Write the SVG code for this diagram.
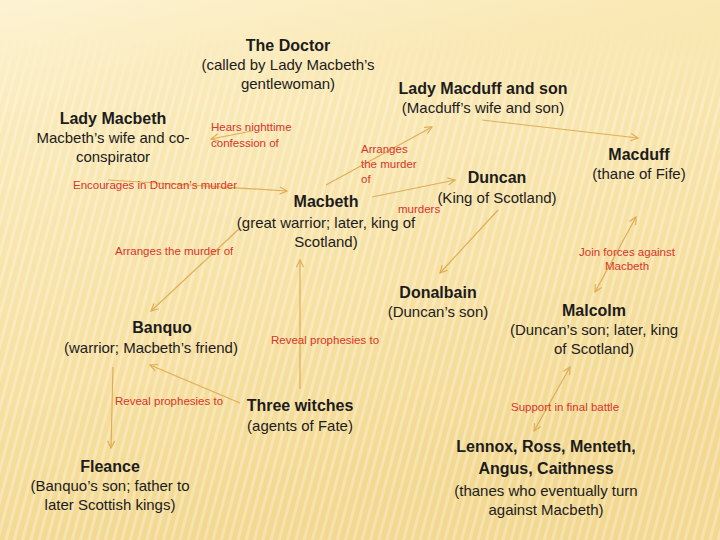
<svg xmlns="http://www.w3.org/2000/svg" width="720" height="540" viewBox="0 0 720 540">
<defs>
<linearGradient id="bg" x1="0" y1="0" x2="0.3" y2="1">
<stop offset="0" stop-color="#FDF3D3"/>
<stop offset="0.25" stop-color="#FAE9B6"/>
<stop offset="0.7" stop-color="#F6DF9F"/>
<stop offset="1" stop-color="#F2D890"/>
</linearGradient>
<pattern id="stripes" width="8" height="8" patternUnits="userSpaceOnUse" patternTransform="rotate(15)">
<rect x="0" y="0" width="3" height="8" fill="#FFFFFF"/>
</pattern>
<linearGradient id="fade" x1="0" y1="0" x2="0" y2="1">
<stop offset="0" stop-color="#000"/>
<stop offset="0.06" stop-color="#000"/>
<stop offset="0.2" stop-color="#fff"/>
<stop offset="1" stop-color="#fff"/>
</linearGradient>
<mask id="m">
<rect width="720" height="540" fill="url(#fade)"/>
</mask>
<marker id="ah" viewBox="0 0 10 10" refX="9" refY="5" markerWidth="9" markerHeight="9" orient="auto-start-reverse" markerUnits="userSpaceOnUse">
<path d="M1,1 L9,5 L1,9" fill="none" stroke="#DFAE55" stroke-width="1.3"/>
</marker>
<style>
.t{font-family:"Liberation Sans",Arial,sans-serif;font-size:16px;font-weight:bold;fill:#1c1c1c;text-anchor:middle}
.d{font-family:"Liberation Sans",Arial,sans-serif;font-size:15px;fill:#1c1c1c;text-anchor:middle}
.r{font-family:"Liberation Sans",Arial,sans-serif;font-size:11.5px;fill:#D8352A}
.c{fill:none;stroke:#DFAE55;stroke-width:1.2}
</style>
</defs>
<rect width="720" height="540" fill="url(#bg)"/>
<rect width="720" height="540" fill="url(#stripes)" opacity="0.28" mask="url(#m)"/>

<g id="connectors">
<line class="c" x1="252" y1="131" x2="211" y2="139" marker-end="url(#ah)"/>
<line class="c" x1="108" y1="180" x2="287" y2="191" marker-end="url(#ah)"/>
<line class="c" x1="326" y1="185" x2="432" y2="127" marker-end="url(#ah)"/>
<line class="c" x1="372" y1="197" x2="455" y2="180" marker-end="url(#ah)"/>
<line class="c" x1="482" y1="120" x2="638" y2="138" marker-end="url(#ah)"/>
<line class="c" x1="498" y1="210" x2="440" y2="273" marker-end="url(#ah)"/>
<line class="c" x1="636" y1="217" x2="595" y2="292" marker-start="url(#ah)" marker-end="url(#ah)"/>
<line class="c" x1="570" y1="367" x2="534" y2="431" marker-start="url(#ah)" marker-end="url(#ah)"/>
<line class="c" x1="240" y1="228" x2="151" y2="311" marker-end="url(#ah)"/>
<line class="c" x1="300" y1="389" x2="300" y2="260" marker-end="url(#ah)"/>
<line class="c" x1="240" y1="403" x2="150" y2="365" marker-end="url(#ah)"/>
<line class="c" x1="113" y1="367" x2="111" y2="448" marker-end="url(#ah)"/>
<text class="r" x="211" y="131">Hears nighttime</text>
<text class="r" x="211" y="147">confession of</text>
<text class="r" x="73" y="189">Encourages in Duncan’s murder</text>
<text class="r" x="361" y="153">Arranges</text>
<text class="r" x="361" y="168">the murder</text>
<text class="r" x="361" y="183">of</text>
<text class="r" x="398" y="213">murders</text>
<text class="r" x="115" y="255">Arranges the murder of</text>
<text class="r" x="627" y="256" text-anchor="middle">Join forces against</text>
<text class="r" x="627" y="270" text-anchor="middle">Macbeth</text>
<text class="r" x="271" y="344">Reveal prophesies to</text>
<text class="r" x="115" y="405">Reveal prophesies to</text>
<text class="r" x="511" y="411">Support in final battle</text>
</g>

<g id="doctor">
<text class="t" x="288" y="51">The Doctor</text>
<text class="d" x="288" y="70">(called by Lady Macbeth’s</text>
<text class="d" x="288" y="89">gentlewoman)</text>
</g>
<g id="lady-macbeth">
<text class="t" x="113" y="124">Lady Macbeth</text>
<text class="d" x="113" y="143">Macbeth’s wife and co-</text>
<text class="d" x="113" y="162">conspirator</text>
</g>
<g id="lady-macduff">
<text class="t" x="483" y="94">Lady Macduff and son</text>
<text class="d" x="483" y="113">(Macduff’s wife and son)</text>
</g>
<g id="macduff">
<text class="t" x="639" y="160">Macduff</text>
<text class="d" x="639" y="179">(thane of Fife)</text>
</g>
<g id="duncan">
<text class="t" x="497" y="183">Duncan</text>
<text class="d" x="497" y="203">(King of Scotland)</text>
</g>
<g id="macbeth">
<text class="t" x="326" y="207">Macbeth</text>
<text class="d" x="326" y="228">(great warrior; later, king of</text>
<text class="d" x="326" y="247">Scotland)</text>
</g>
<g id="donalbain">
<text class="t" x="438" y="298">Donalbain</text>
<text class="d" x="438" y="317">(Duncan’s son)</text>
</g>
<g id="malcolm">
<text class="t" x="594" y="316">Malcolm</text>
<text class="d" x="594" y="335">(Duncan’s son; later, king</text>
<text class="d" x="594" y="354">of Scotland)</text>
</g>
<g id="banquo">
<text class="t" x="162" y="333">Banquo</text>
<text class="d" x="151" y="353">(warrior; Macbeth’s friend)</text>
</g>
<g id="witches">
<text class="t" x="300" y="411">Three witches</text>
<text class="d" x="300" y="431">(agents of Fate)</text>
</g>
<g id="fleance">
<text class="t" x="110" y="472">Fleance</text>
<text class="d" x="110" y="491">(Banquo’s son; father to</text>
<text class="d" x="110" y="510">later Scottish kings)</text>
</g>
<g id="thanes">
<text class="t" x="546" y="452">Lennox, Ross, Menteth,</text>
<text class="t" x="546" y="474">Angus, Caithness</text>
<text class="d" x="546" y="496">(thanes who eventually turn</text>
<text class="d" x="546" y="515">against Macbeth)</text>
</g>
</svg>
